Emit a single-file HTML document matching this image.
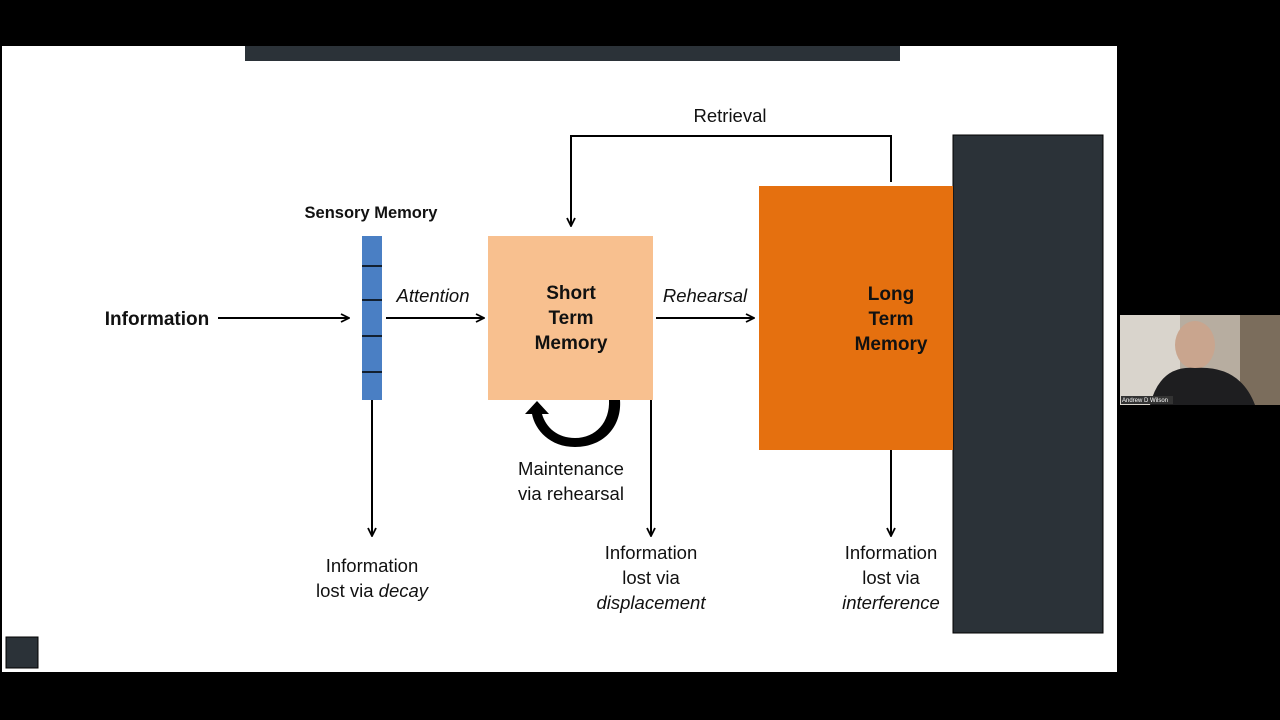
<!DOCTYPE html>
<html><head><style>
html,body{margin:0;padding:0;background:#000;width:1280px;height:720px;overflow:hidden}
svg{display:block}
text{font-family:"Liberation Sans","DejaVu Sans",sans-serif;fill:#111}
</style></head><body>
<svg width="1280" height="720" viewBox="0 0 1280 720">
<defs>
<marker id="a" markerWidth="10" markerHeight="10" refX="9" refY="5" orient="auto" markerUnits="userSpaceOnUse">
<path d="M1,1 L9,5 L1,9" fill="none" stroke="#000" stroke-width="1.8"/>
</marker>
</defs>
<rect x="0" y="0" width="1280" height="720" fill="#000"/>
<rect x="2" y="46" width="1115" height="626" fill="#fff"/>
<rect x="245" y="46" width="655" height="15" fill="#2b3238"/>
<rect x="953" y="135" width="150" height="498" fill="#2b3238" stroke="#000" stroke-width="1"/>
<rect x="6" y="637" width="32" height="31" fill="#2b3238" stroke="#000"/>
<!-- webcam -->
<rect x="1120" y="315" width="160" height="90" fill="#b7ada0"/>
<rect x="1120" y="315" width="60" height="90" fill="#d9d4cc"/>
<rect x="1240" y="315" width="40" height="90" fill="#7b6d5c"/>
<ellipse cx="1195" cy="345" rx="20" ry="24" fill="#c9a58e"/>
<path d="M1150 405 Q1160 365 1195 368 Q1240 365 1255 405Z" fill="#1e1e20"/>
<rect x="1121" y="396" width="52" height="8" fill="#333"/>
<text x="1122" y="402" font-size="6" style="fill:#fff">Andrew D Wilson</text>

<!-- sensory -->
<text x="371" y="218" font-size="16.5" font-weight="bold" text-anchor="middle">Sensory Memory</text>
<rect x="362" y="236" width="20" height="164" fill="#4a7fc4"/>
<g stroke="#000" stroke-width="1.5">
<line x1="362" y1="266" x2="382" y2="266"/><line x1="362" y1="300" x2="382" y2="300"/>
<line x1="362" y1="336" x2="382" y2="336"/><line x1="362" y1="372" x2="382" y2="372"/>
</g>
<text x="157" y="325" font-size="19" font-weight="bold" text-anchor="middle">Information</text>
<g stroke="#000" stroke-width="2" fill="none" marker-end="url(#a)">
<line x1="218" y1="318" x2="349" y2="318"/>
<line x1="386" y1="318" x2="484" y2="318"/>
<line x1="656" y1="318" x2="754" y2="318"/>
<line x1="372" y1="400" x2="372" y2="536"/>
<line x1="651" y1="400" x2="651" y2="536"/>
<line x1="891" y1="450" x2="891" y2="536"/>
<polyline points="891,182 891,136 571,136 571,226"/>
</g>
<text x="433" y="302" font-size="18.5" font-style="italic" text-anchor="middle">Attention</text>
<text x="705" y="302" font-size="18.5" font-style="italic" text-anchor="middle">Rehearsal</text>
<text x="730" y="122" font-size="18.5" text-anchor="middle">Retrieval</text>

<rect x="488" y="236" width="165" height="164" fill="#f8c08f"/>
<text x="571" y="299" font-size="19" font-weight="bold" text-anchor="middle">Short</text>
<text x="571" y="324" font-size="19" font-weight="bold" text-anchor="middle">Term</text>
<text x="571" y="349" font-size="19" font-weight="bold" text-anchor="middle">Memory</text>

<rect x="759" y="186" width="194" height="264" fill="#e5700f"/>
<text x="891" y="300" font-size="19" font-weight="bold" text-anchor="middle">Long</text>
<text x="891" y="325" font-size="19" font-weight="bold" text-anchor="middle">Term</text>
<text x="891" y="350" font-size="19" font-weight="bold" text-anchor="middle">Memory</text>

<!-- maintenance loop -->
<path d="M620 400 C622 425 605 447 575 447 C550 447 535 430 532 414 L525 414 L537 401 L549 414 L542 414 C546 428 558 438 575 438 C596 438 610 422 609 400 Z" fill="#000"/>
<text x="571" y="475" font-size="18.5" text-anchor="middle">Maintenance</text>
<text x="571" y="500" font-size="18.5" text-anchor="middle">via rehearsal</text>

<text x="372" y="572" font-size="18.5" text-anchor="middle">Information</text>
<text x="372" y="597" font-size="18.5" text-anchor="middle">lost via <tspan font-style="italic">decay</tspan></text>
<text x="651" y="559" font-size="18.5" text-anchor="middle">Information</text>
<text x="651" y="584" font-size="18.5" text-anchor="middle">lost via</text>
<text x="651" y="609" font-size="18.5" font-style="italic" text-anchor="middle">displacement</text>
<text x="891" y="559" font-size="18.5" text-anchor="middle">Information</text>
<text x="891" y="584" font-size="18.5" text-anchor="middle">lost via</text>
<text x="891" y="609" font-size="18.5" font-style="italic" text-anchor="middle">interference</text>
</svg>
</body></html>
